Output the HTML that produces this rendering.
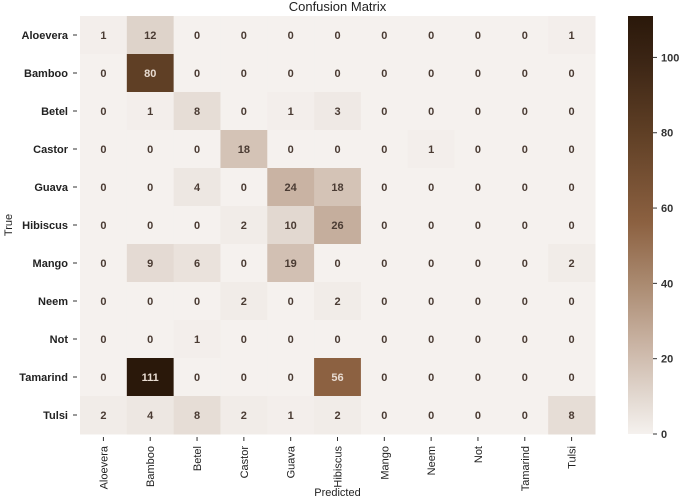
<!DOCTYPE html>
<html><head><meta charset="utf-8"><style>
body{margin:0;background:#fff;width:685px;height:499px;overflow:hidden;font-family:"Liberation Sans",sans-serif}
</style></head><body>
<svg id="c" width="685" height="499">
<defs><linearGradient id="g" x1="0" y1="1" x2="0" y2="0">
<stop offset="0" stop-color="#f5f1ee"/><stop offset="0.09" stop-color="#e2d8d0"/><stop offset="0.216" stop-color="#c9b3a3"/><stop offset="0.36" stop-color="#aa8a70"/><stop offset="0.505" stop-color="#8c6141"/><stop offset="0.72" stop-color="#5f3f25"/><stop offset="0.9" stop-color="#3a2414"/><stop offset="1" stop-color="#2a180a"/></linearGradient></defs>
</svg>
<script>
const labels=["Aloevera","Bamboo","Betel","Castor","Guava","Hibiscus","Mango","Neem","Not","Tamarind","Tulsi"];
const row0=[1,12,0,0,0,0,0,0,0,0,1];
const row1=[0,80,0,0,0,0,0,0,0,0,0];
const row2=[0,1,8,0,1,3,0,0,0,0,0];
const row3=[0,0,0,18,0,0,0,1,0,0,0];
const row4=[0,0,4,0,24,18,0,0,0,0,0];
const row5=[0,0,0,2,10,26,0,0,0,0,0];
const row6=[0,9,6,0,19,0,0,0,0,0,2];
const row7=[0,0,0,2,0,2,0,0,0,0,0];
const row8=[0,0,1,0,0,0,0,0,0,0,0];
const row9=[0,111,0,0,0,56,0,0,0,0,0];
const row10=[2,4,8,2,1,2,0,0,0,0,8];
const cbTicks=[0,20,40,60,80,100];
const vmax=111;
const matrix=[row0,row1,row2,row3,row4,row5,row6,row7,row8,row9,row10];
const svg=document.getElementById('c');const NS="http://www.w3.org/2000/svg";
const L=80,T=16,W=515,H=418,n=labels.length,cw=W/n,ch=H/n;
const stops=[[0,[245,241,238]],[0.09,[226,216,208]],[0.216,[201,179,163]],[0.36,[170,138,112]],[0.505,[140,97,65]],[0.72,[95,63,37]],[0.9,[58,36,20]],[1,[42,24,10]]];
function col(v){let t=Math.min(1,v/vmax);for(let i=1;i<stops.length;i++){if(t<=stops[i][0]){const a=stops[i-1],b=stops[i],f=(t-a[0])/(b[0]-a[0]);return 'rgb('+a[1].map((c,k)=>Math.round(c+(b[1][k]-c)*f)).join(',')+')';}}}
function el(tag,attrs,txt){const e=document.createElementNS(NS,tag);for(const k in attrs)e.setAttribute(k,attrs[k]);if(txt!==undefined)e.textContent=txt;svg.appendChild(e);return e;}
const xs=i=>L+i*cw, ys=j=>T+j*ch;
matrix.forEach((row,j)=>row.forEach((v,i)=>{
 const r=el('rect',{x:xs(i),y:ys(j),width:cw+0.5,height:ch+0.5,fill:col(v)});
 
 
 const t=el('text',{x:xs(i)+cw/2,y:ys(j)+ch/2+4,'text-anchor':'middle','font-size':11,'font-weight':'bold',fill:v/vmax>0.45?'#e8dcd2':'#4a3b33'},v);
 
 
}));
labels.forEach((lb,j)=>{
 const t=el('text',{x:L-12,y:ys(j)+ch/2+4,'text-anchor':'end','font-size':11,'font-weight':'bold',fill:'#222'},lb);
 
 
 el('line',{x1:L-7,x2:L-3,y1:ys(j)+ch/2,y2:ys(j)+ch/2,stroke:'#333'});
 const x=el('text',{transform:`translate(${xs(j)+cw/2+4},${T+H+12}) rotate(-90)`,'text-anchor':'end','font-size':11,fill:'#222'},lb);
 
 
 el('line',{x1:xs(j)+cw/2,x2:xs(j)+cw/2,y1:T+H+3,y2:T+H+7,stroke:'#333'});
});
const cbX=628,cbW=25;
const cb=el('rect',{x:cbX,y:T,width:cbW,height:H,fill:'url(#g)'});


cbTicks.forEach(v=>{const y=T+H-v/vmax*H;
 el('line',{x1:cbX+cbW,x2:cbX+cbW+4,y1:y,y2:y,stroke:'#333'});
 const t=el('text',{x:cbX+cbW+8,y:y+4,'font-size':11,'font-weight':'bold',fill:'#333'},v);
 
 
});
const tt=el('text',{x:L+W/2,y:11,'text-anchor':'middle','font-size':13,fill:'#222'},'Confusion Matrix');


const xl=el('text',{x:L+W/2,y:496,'text-anchor':'middle','font-size':11,fill:'#222'},'Predicted');


const yl=el('text',{transform:`translate(12,${T+H/2}) rotate(-90)`,'text-anchor':'middle','font-size':11,fill:'#222'},'True');


</script>
</body></html>
